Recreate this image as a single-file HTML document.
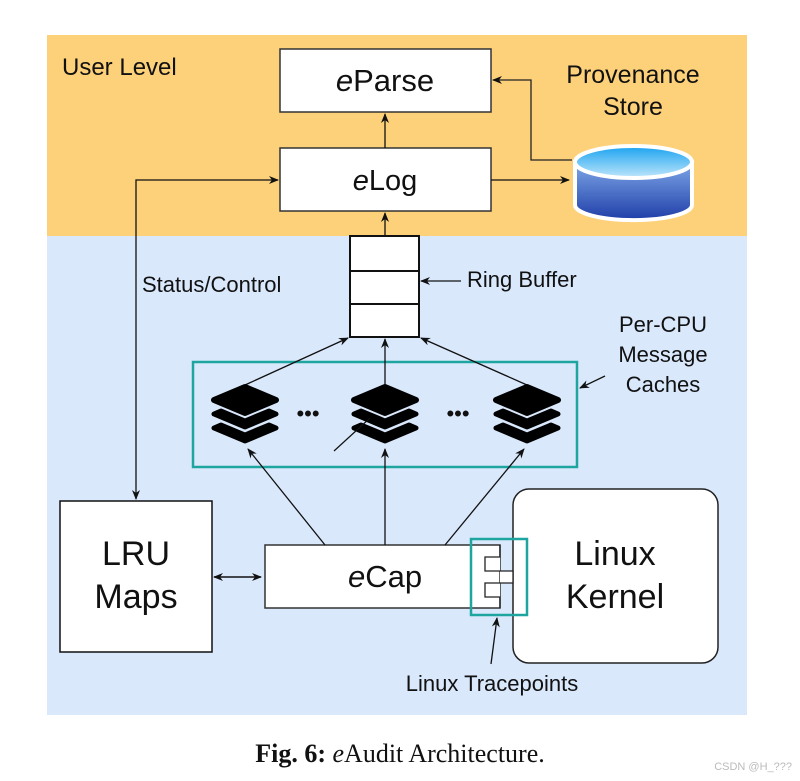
<!DOCTYPE html>
<html><head><style>
html,body{margin:0;padding:0;background:#fff;width:800px;height:781px;overflow:hidden}
svg{display:block}
text{font-family:"Liberation Sans",sans-serif;fill:#111}
</style></head><body>
<svg width="800" height="781" viewBox="0 0 800 781">
<defs>
<marker id="a" markerWidth="10" markerHeight="10" refX="9" refY="5" orient="auto" markerUnits="userSpaceOnUse"><path d="M0,1 L10,5 L0,9 L3,5 Z" fill="#111"/></marker>
<marker id="s" markerWidth="10" markerHeight="10" refX="1" refY="5" orient="auto" markerUnits="userSpaceOnUse"><path d="M10,1 L0,5 L10,9 L7,5 Z" fill="#111"/></marker>
<linearGradient id="cg" x1="0" y1="0" x2="0" y2="1"><stop offset="0" stop-color="#7fa8e8"/><stop offset="1" stop-color="#1f3ea8"/></linearGradient>
<linearGradient id="tg" x1="0" y1="0" x2="0" y2="1"><stop offset="0" stop-color="#1aa3f0"/><stop offset="1" stop-color="#bfe6fb"/></linearGradient>
<g id="stk">
<path d="M-31,0 L0,-13 L31,0 L0,13 Z" fill="#000" stroke="#000" stroke-width="6" stroke-linejoin="round"/>
<path d="M-31,14 L-24,11 L0,21 L24,11 L31,14 L0,27 Z" fill="#000" stroke="#000" stroke-width="5" stroke-linejoin="round"/>
<path d="M-31,28 L-24,25 L0,35 L24,25 L31,28 L0,41 Z" fill="#000" stroke="#000" stroke-width="5" stroke-linejoin="round"/>
</g>
</defs>
<rect x="47" y="35" width="700" height="201" fill="#fdd17a"/>
<rect x="47" y="236" width="700" height="479" fill="#dae8fc"/>
<text x="62" y="75" font-size="24">User Level</text>
<rect x="280" y="49" width="211" height="63" fill="#fff" stroke="#333" stroke-width="1.5"/>
<text x="385" y="91" font-size="31" text-anchor="middle"><tspan font-style="italic">e</tspan>Parse</text>
<rect x="280" y="148" width="211" height="63" fill="#fff" stroke="#333" stroke-width="1.5"/>
<text x="385" y="190" font-size="29" text-anchor="middle"><tspan font-style="italic">e</tspan>Log</text>
<line x1="385" y1="148" x2="385" y2="114" stroke="#111" stroke-width="1.3" marker-end="url(#a)"/>
<line x1="385" y1="236" x2="385" y2="213" stroke="#111" stroke-width="1.3" marker-end="url(#a)"/>
<text x="633" y="83" font-size="25" text-anchor="middle">Provenance</text>
<text x="633" y="115" font-size="25" text-anchor="middle">Store</text>
<polyline points="572,160 531,160 531,80 493,80" fill="none" stroke="#222" stroke-width="1.3" marker-end="url(#a)"/>
<line x1="491" y1="180" x2="569" y2="180" stroke="#111" stroke-width="1.3" marker-end="url(#a)"/>
<path d="M575,162 L575,205 A58,15 0 0 0 692,205 L692,162 Z" fill="url(#cg)" stroke="#fff" stroke-width="4"/>
<ellipse cx="633.5" cy="162" rx="58.5" ry="16" fill="url(#tg)" stroke="#fff" stroke-width="4"/>
<polyline points="136,499 136,180 278,180" fill="none" stroke="#111" stroke-width="1.3" marker-start="url(#s)" marker-end="url(#a)"/>
<text x="142" y="292" font-size="22">Status/Control</text>
<rect x="350" y="236" width="69" height="101" fill="#fff" stroke="#111" stroke-width="2"/>
<line x1="350" y1="271" x2="419" y2="271" stroke="#111" stroke-width="2"/>
<line x1="350" y1="304" x2="419" y2="304" stroke="#111" stroke-width="2"/>
<line x1="461" y1="281" x2="421" y2="281" stroke="#111" stroke-width="1.3" marker-end="url(#a)"/>
<text x="467" y="287" font-size="22">Ring Buffer</text>
<text x="663" y="332" font-size="22" text-anchor="middle">Per-CPU</text>
<text x="663" y="362" font-size="22" text-anchor="middle">Message</text>
<text x="663" y="392" font-size="22" text-anchor="middle">Caches</text>
<line x1="605" y1="376" x2="580" y2="388" stroke="#111" stroke-width="1.3" marker-end="url(#a)"/>
<rect x="193" y="362" width="384" height="105" fill="none" stroke="#1fa5a0" stroke-width="2.5"/>
<line x1="245" y1="385" x2="348" y2="338" stroke="#111" stroke-width="1.3" marker-end="url(#a)"/>
<line x1="385" y1="385" x2="385" y2="339" stroke="#111" stroke-width="1.3" marker-end="url(#a)"/>
<line x1="527" y1="385" x2="421" y2="338" stroke="#111" stroke-width="1.3" marker-end="url(#a)"/>
<use href="#stk" x="245" y="400"/>
<use href="#stk" x="385" y="400"/>
<use href="#stk" x="527" y="400"/>
<line x1="334" y1="451" x2="370" y2="418" stroke="#111" stroke-width="1.2"/>
<text x="308" y="421" font-size="22" text-anchor="middle">•••</text>
<text x="458" y="421" font-size="22" text-anchor="middle">•••</text>
<rect x="60" y="501" width="152" height="151" fill="#fff" stroke="#111" stroke-width="1.5"/>
<text x="136" y="565" font-size="34" text-anchor="middle">LRU</text>
<text x="136" y="608" font-size="34" text-anchor="middle">Maps</text>
<line x1="214" y1="577" x2="261" y2="577" stroke="#111" stroke-width="1.5" marker-start="url(#s)" marker-end="url(#a)"/>
<rect x="513" y="489" width="205" height="174" rx="16" fill="#fff" stroke="#222" stroke-width="1.5"/>
<text x="615" y="565" font-size="34" text-anchor="middle">Linux</text>
<text x="615" y="608" font-size="34" text-anchor="middle">Kernel</text>
<rect x="265" y="545" width="235" height="63" fill="#fff" stroke="#333" stroke-width="1.5"/>
<path d="M500,545 L500,557 L485,557 L485,571 L513,571 L513,583 L485,583 L485,597 L500,597 L500,608" fill="#fff" stroke="#222" stroke-width="1.3"/>
<rect x="471" y="539" width="56" height="76" fill="none" stroke="#1fa5a0" stroke-width="2.5"/>
<text x="385" y="587" font-size="31" text-anchor="middle"><tspan font-style="italic">e</tspan>Cap</text>
<line x1="325" y1="545" x2="248" y2="449" stroke="#111" stroke-width="1.3" marker-end="url(#a)"/>
<line x1="385" y1="545" x2="385" y2="449" stroke="#111" stroke-width="1.3" marker-end="url(#a)"/>
<line x1="445" y1="545" x2="524" y2="449" stroke="#111" stroke-width="1.3" marker-end="url(#a)"/>
<line x1="491" y1="664" x2="497" y2="618" stroke="#111" stroke-width="1.3" marker-end="url(#a)"/>
<text x="492" y="691" font-size="22" text-anchor="middle">Linux Tracepoints</text>
<text x="400" y="762" font-size="26" text-anchor="middle" style="font-family:'Liberation Serif',serif"><tspan font-weight="bold">Fig. 6:</tspan> <tspan font-style="italic">e</tspan>Audit Architecture.</text>
<text x="792" y="770" font-size="11" text-anchor="end" style="fill:#bbb">CSDN @H_???</text>
</svg>
</body></html>
